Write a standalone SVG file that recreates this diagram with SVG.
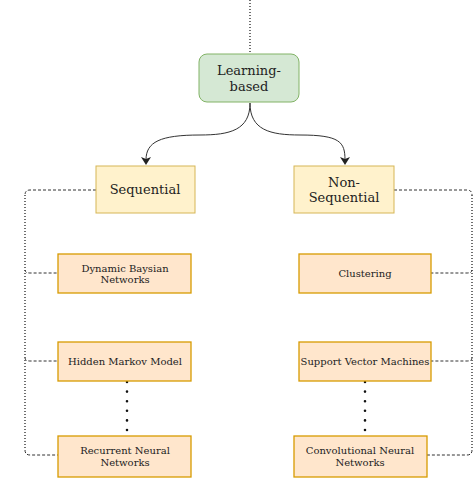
<svg xmlns="http://www.w3.org/2000/svg" width="474" height="498" viewBox="0 0 474 498">
<defs>
<style>
text{font-family:"DejaVu Serif","Liberation Serif",serif;fill:#222;text-anchor:middle}
.big{font-size:13px}
.small{font-size:10px}
.green{fill:#d5e8d4;stroke:#82b366;stroke-width:1}
.yellow{fill:#fff2cc;stroke:#d6b656;stroke-width:1}
.orange{fill:#ffe6cc;stroke:#d79b00;stroke-width:1.3}
.dash{fill:none;stroke:#333;stroke-width:1;stroke-dasharray:3 2}
.dot{fill:none;stroke:#222;stroke-width:1.3;stroke-dasharray:1 2}
.bigdot{fill:none;stroke:#111;stroke-width:2.6;stroke-dasharray:0 9.6;stroke-linecap:round}
.curve{fill:none;stroke:#333;stroke-width:1}
</style>
</defs>
<g id="connectors">
<line class="dot" x1="250" y1="0" x2="250" y2="53"/>
<path class="curve" d="M250,103 C250,130 230,135 200,135 C160,135 146,142 146,160"/>
<path d="M141,157 L146,165 L151,157 L146,159 Z" fill="#222"/>
<path class="curve" d="M250,103 C250,130 270,135 300,135 C340,135 345,142 345,160"/>
<path d="M340,157 L345,165 L350,157 L345,159 Z" fill="#222"/>
<path class="dash" d="M96,190 L30,190 Q25,190 25,195"/>
<path class="dot" d="M25,195 L25,450"/>
<path class="dash" d="M25,450 Q25,455 30,455 L58,455"/>
<path class="dash" d="M25,270 Q25,273 30,273 L58,273"/>
<path class="dash" d="M25,358 Q25,361 30,361 L58,361"/>
<path class="dash" d="M394,190 L467,190 Q472,190 472,195"/>
<path class="dot" d="M472,195 L472,450"/>
<path class="dash" d="M472,450 Q472,455 467,455 L427,455"/>
<path class="dash" d="M472,270 Q472,273 467,273 L431,273"/>
<path class="dash" d="M472,358 Q472,361 467,361 L431,361"/>
<line class="bigdot" x1="127" y1="382" x2="127" y2="431"/>
<line class="bigdot" x1="365" y1="382" x2="365" y2="431"/>
</g>
<g id="learning-based">
<rect class="green" x="199" y="54" width="100" height="48" rx="8"/>
<text class="big" x="249" y="75">Learning-</text>
<text class="big" x="249" y="91">based</text>
</g>
<g id="sequential">
<rect class="yellow" x="96" y="166" width="99" height="47"/>
<text class="big" x="145" y="194">Sequential</text>
</g>
<g id="non-sequential">
<rect class="yellow" x="294" y="166" width="100" height="47"/>
<text class="big" x="344" y="187">Non-</text>
<text class="big" x="344" y="202">Sequential</text>
</g>
<g id="dbn">
<rect class="orange" x="58" y="254" width="133" height="39"/>
<text class="small" x="125" y="272">Dynamic Baysian</text>
<text class="small" x="125" y="283">Networks</text>
</g>
<g id="hmm">
<rect class="orange" x="58" y="342" width="133" height="39"/>
<text class="small" x="125" y="365">Hidden Markov Model</text>
</g>
<g id="rnn">
<rect class="orange" x="58" y="436" width="133" height="41"/>
<text class="small" x="125" y="454">Recurrent Neural</text>
<text class="small" x="125" y="466">Networks</text>
</g>
<g id="clustering">
<rect class="orange" x="299" y="254" width="132" height="39"/>
<text class="small" x="365" y="277">Clustering</text>
</g>
<g id="svm">
<rect class="orange" x="299" y="342" width="132" height="39"/>
<text class="small" x="365" y="365">Support Vector Machines</text>
</g>
<g id="cnn">
<rect class="orange" x="294" y="436" width="133" height="41"/>
<text class="small" x="360" y="454">Convolutional Neural</text>
<text class="small" x="360" y="466">Networks</text>
</g>
</svg>
